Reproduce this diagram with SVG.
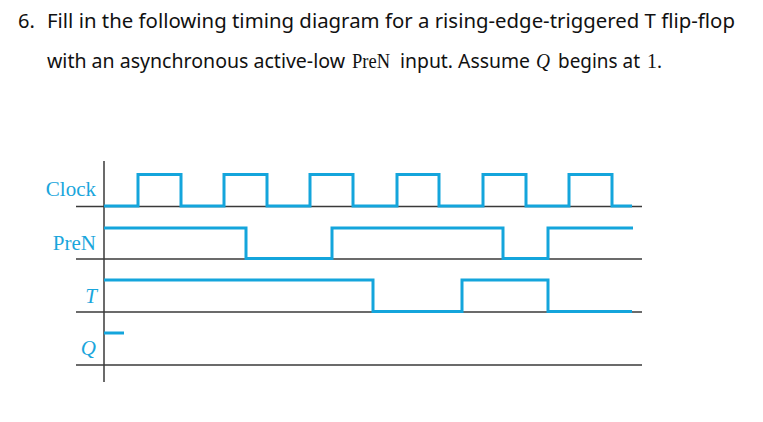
<svg xmlns="http://www.w3.org/2000/svg" width="763" height="422" viewBox="0 0 763 422">
  <style>
    .q { font-family: "Noto Sans", "Open Sans", sans-serif; font-size: 20px; fill: #111; }
    .s { font-family: "Liberation Serif", "DejaVu Serif", serif; }
    .lbl { font-family: "Liberation Serif", "DejaVu Serif", serif; font-size: 21px; fill: #1aa6dc; text-anchor: end; }
    .it { font-style: italic; }
    .axis { stroke: #3a3a3a; stroke-width: 1.5; fill: none; }
    .sig { stroke: #14a5dc; stroke-width: 3; fill: none; stroke-linejoin: miter; stroke-linecap: butt; }
  </style>
  <rect width="763" height="422" fill="#ffffff"/>
  <g id="question">
    <text class="q" x="18" y="28">6.</text>
    <text class="q" x="47" y="28" textLength="688" lengthAdjust="spacingAndGlyphs">Fill in the following timing diagram for a rising-edge-triggered T flip-flop</text>
    <text class="q" x="47" y="68" textLength="298" lengthAdjust="spacingAndGlyphs">with an asynchronous active-low</text>
    <text class="q s" x="352" y="68" textLength="38" lengthAdjust="spacingAndGlyphs">PreN</text>
    <text class="q" x="400" y="68" textLength="130" lengthAdjust="spacingAndGlyphs">input. Assume</text>
    <text class="q s it" x="536" y="68" textLength="14" lengthAdjust="spacingAndGlyphs">Q</text>
    <text class="q" x="558" y="68" textLength="82" lengthAdjust="spacingAndGlyphs">begins at</text>
    <text class="q s" x="647" y="68" textLength="15" lengthAdjust="spacingAndGlyphs">1.</text>
  </g>
  <g id="axes">
    <line class="axis" x1="104" y1="161" x2="104" y2="382"/>
    <line class="axis" x1="76" y1="206.5" x2="642" y2="206.5"/>
    <line class="axis" x1="76" y1="259" x2="642" y2="259"/>
    <line class="axis" x1="76" y1="312" x2="642" y2="312"/>
    <line class="axis" x1="76" y1="365" x2="642" y2="365"/>
  </g>
  <g id="clock">
    <text class="lbl" x="96" y="196">Clock</text>
    <path class="sig" d="M104,206 H138 V174.5 H181 V206 H224 V174.5 H267 V206 H310 V174.5 H353 V206 H397 V174.5 H439 V206 H483 V174.5 H526 V206 H569 V174.5 H612 V206 H632"/>
  </g>
  <g id="pren">
    <text class="lbl" x="96" y="250">PreN</text>
    <path class="sig" d="M104,228 H246 V258.5 H332 V228 H503 V258.5 H548 V228 H633"/>
  </g>
  <g id="t">
    <text class="lbl it" x="97" y="303">T</text>
    <path class="sig" d="M104,280 H373 V311.5 H462 V280 H548 V311.5 H632"/>
  </g>
  <g id="q">
    <text class="lbl it" x="96" y="355">Q</text>
    <path class="sig" d="M104,333 H124"/>
  </g>
</svg>
